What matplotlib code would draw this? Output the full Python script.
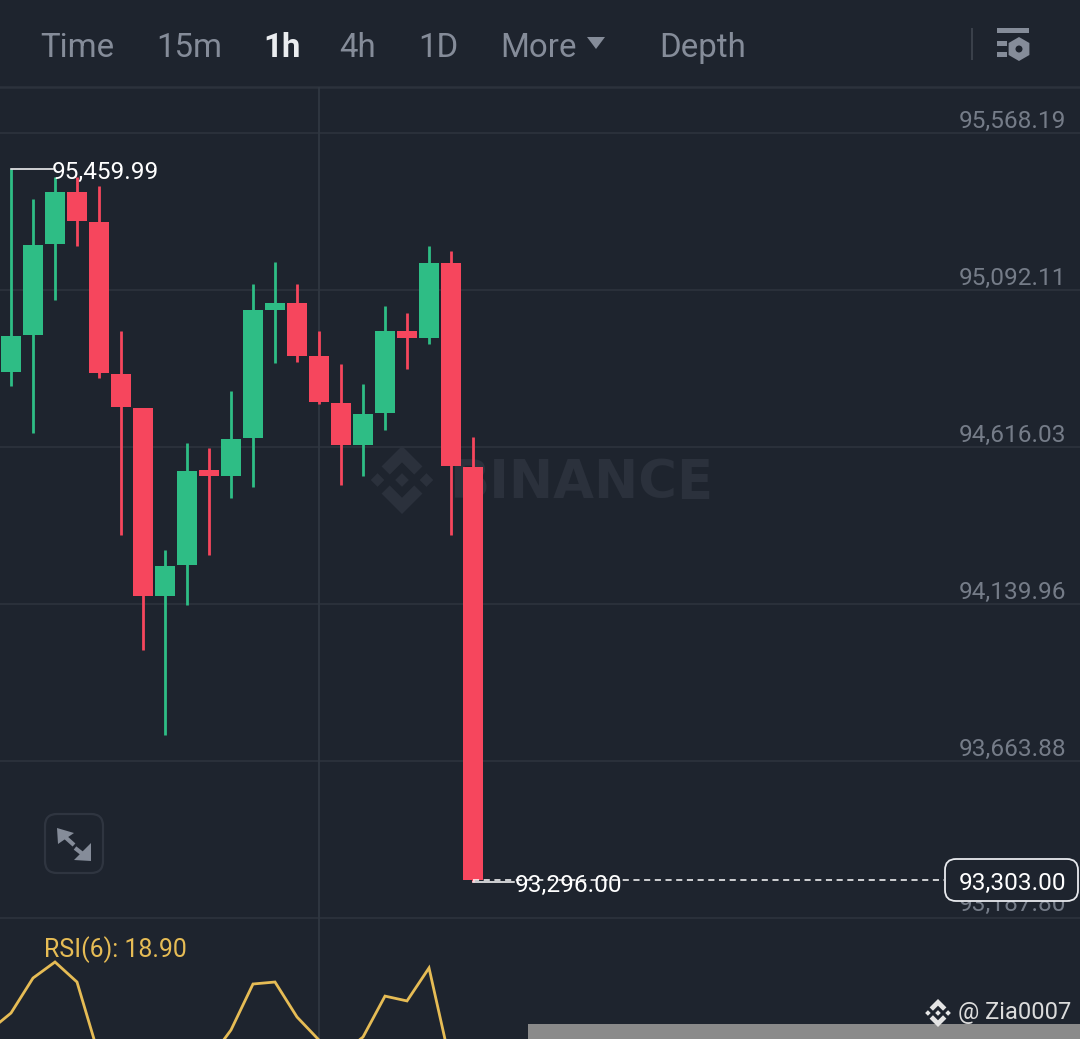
import matplotlib
matplotlib.use('Agg')
import matplotlib.pyplot as plt
from matplotlib.patches import FancyBboxPatch, Polygon, Rectangle, Circle, RegularPolygon

# candles
opens = [94843.5, 94955.7, 95231.6, 95389.3, 95298.3, 94837.4, 94734.3, 94164.2, 94258.2, 94546.3, 94528.1,
         94643.3, 95031.5, 95052.7, 94892.0, 94749.5, 94622.1, 94719.1, 94967.8, 94946.6, 95174.0, 94555.4]
highs = [95459.99, 95368.1, 95434.8, 95434.8, 95407.5, 94967.8, 94734.3, 94303.7, 94628.2, 94613.0, 94785.8,
         95110.3, 95177.0, 95110.3, 94967.8, 94867.7, 94807.1, 95043.6, 95022.4, 95225.5, 95210.4, 94646.4]
lows = [94801.0, 94658.5, 95061.8, 95225.5, 94825.3, 94349.2, 94000.4, 93742.7, 94136.9, 94288.5, 94461.4,
        94494.7, 94870.7, 94873.8, 94746.4, 94500.8, 94528.1, 94667.6, 94852.6, 94928.4, 94349.2, 93296.0]
closes = [94952.6, 95228.6, 95389.3, 95301.3, 94840.4, 94737.3, 94164.2, 94255.2, 94543.2, 94528.1, 94640.3,
          95031.5, 95052.7, 94892.0, 94752.5, 94622.1, 94716.1, 94967.8, 94946.6, 95174.0, 94558.4, 93303.0]

price_ticks = [95568.19, 95092.11, 94616.03, 94139.96, 93663.88, 93187.80]
high_price = 95459.99
low_price = 93296.00
last_price = 93303.00

# RSI starts one candle before the first visible one, lower values are off the crop
rsi_idx = list(range(-1, 22))
rsi = [48.6, 56.8, 72.7, 80.0, 70.9, 37.3, 28.6, 24.0, 28.6, 32.7, 35.5, 49.1,
       70.0, 70.9, 55.0, 44.5, 37.7, 45.9, 64.5, 62.3, 77.3, 32.7, 18.90]
rsi_label = 'RSI(6): 18.90'

menu_labels = ['Time', '15m', '1h', '4h', '1D', 'More', 'Depth']
menu_x = [40, 156, 263, 339, 418, 500, 659]

BG = '#1E242E'
GRID = '#2C323C'
VLINE = '#303741'
GREEN = '#2EBD85'
RED = '#F6465D'
TXT = '#757C88'
MENU = '#858C99'
YELLOW = '#E6BC55'

plt.rcParams['font.family'] = ['Roboto', 'DejaVu Sans']

W, H = 1080, 1039
fig = plt.figure(figsize=(W / 100, H / 100), dpi=100, facecolor=BG)


def px_axes(z):
    a = fig.add_axes([0, 0, 1, 1], zorder=z)
    a.set_xlim(0, W)
    a.set_ylim(H, 0)
    a.axis('off')
    a.patch.set_alpha(0)
    return a


def binance_logo(a, cx, cy, s, color, z=2):
    for dx in (-0.72, 0, 0.72):
        d = 0.2
        pts = [(dx, -d), (dx + d, 0), (dx, d), (dx - d, 0)]
        a.add_patch(Polygon([(cx + p * s, cy + q * s) for p, q in pts], fc=color, ec='none', zorder=z))
    for sign in (-1, 1):
        pts = [(0, -1), (0.6, -0.4), (0.36, -0.16), (0, -0.52), (-0.36, -0.16), (-0.6, -0.4)]
        a.add_patch(Polygon([(cx + p * s, cy + sign * q * s) for p, q in pts], fc=color, ec='none', zorder=z))


back = px_axes(0)
front = px_axes(5)

# main price panel
ax = fig.add_axes([0, (H - 918) / H, 1, (918 - 87) / H], zorder=2)
ax.patch.set_alpha(0)
ax.set_xlim(-0.5, 48.59)
ax.set_ylim(price_ticks[-1], 95707.68)
ax.axis('off')

# rsi panel
ax2 = fig.add_axes([0, 0, 1, (H - 918) / H], zorder=2)
ax2.patch.set_alpha(0)
ax2.set_xlim(-0.5, 48.59)
ax2.set_ylim(45, 100)
ax2.axis('off')

# grid
for p in price_ticks:
    ax.axhline(p, color=GRID, lw=1.3, zorder=0, clip_on=False)
ax.axvline(14, color=VLINE, lw=1.3, zorder=0)
ax2.axvline(14, color=VLINE, lw=1.3, zorder=0)
back.plot([0, W], [87, 87], color=GRID, lw=1.8)

# watermark
binance_logo(back, 402, 480, 34, '#2B313C')
back.text(449, 483, 'BINANCE', color='#2B313C', fontsize=38, fontweight='bold', family='DejaVu Sans',
          va='center', ha='left')

# candles
for i in range(len(opens)):
    up = closes[i] >= opens[i]
    c = GREEN if up else RED
    ax.vlines(i, lows[i], highs[i], color=c, lw=2, zorder=2)
    ax.bar(i, abs(closes[i] - opens[i]), bottom=min(opens[i], closes[i]), width=0.91, color=c, zorder=3)

# price labels, the lowest one is pushed up a little
for p in price_ticks:
    y_px = 918 - (p - price_ticks[-1]) / (95707.68 - price_ticks[-1]) * (918 - 87)
    off = 14 if p == price_ticks[-1] else 12
    back.text(1066, y_px - off, f'{p:,.2f}', color=TXT, fontsize=17.6, ha='right', va='center')

# high / low / last markers
ax.plot([0, 1.9], [high_price, high_price], color='white', lw=1.1, zorder=4)
ax.text(1.86, high_price - 12, f'{high_price:,.2f}', color='white', fontsize=17.6, va='center', ha='left', zorder=5)
ax.plot([21, 22.86], [low_price, low_price], color='white', lw=1.1, zorder=4)
ax.text(22.9, low_price - 9, f'{low_price:,.2f}', color='white', fontsize=17.6, va='center', ha='left', zorder=5)
ax.plot([21, 42.4], [last_price, last_price], color='white', lw=1.1, ls=(0, (4, 3)), zorder=4)

# last price box
front.add_patch(FancyBboxPatch((945, 859), 133, 42, boxstyle='round,pad=0,rounding_size=11', fc=BG, ec='#E8EAEE', lw=1.3))
front.text(1013, 883, f'{last_price:,.2f}', color='white', fontsize=17.6, ha='center', va='center')

# rsi
ax2.plot(rsi_idx, rsi, color=YELLOW, lw=2, solid_joinstyle='miter', zorder=3)
front.text(44, 950, rsi_label, color=YELLOW, fontsize=17.9, va='center', ha='left')

# top menu
for lab, x in zip(menu_labels, menu_x):
    if lab == '1h':
        front.text(x, 48, lab, color='#EAECEF', fontsize=23.8, fontweight='bold', va='center', ha='left')
    else:
        front.text(x, 48, lab, color=MENU, fontsize=23.8, va='center', ha='left')
front.add_patch(Polygon([(587, 37), (605, 37), (596, 49)], fc=MENU, ec='none'))

# settings icon
front.add_patch(Rectangle((971, 28), 2, 32, fc='#3A404A', ec='none'))
front.add_patch(Rectangle((997, 28), 32, 5, fc=MENU, ec='none'))
front.add_patch(Rectangle((997, 41), 10, 5, fc=MENU, ec='none'))
front.add_patch(Rectangle((997, 52), 10, 5, fc=MENU, ec='none'))
front.add_patch(RegularPolygon((1019, 49), 6, radius=12, fc=MENU, ec='none'))
front.add_patch(Circle((1019, 49), 3.5, fc=BG, ec='none'))

# expand button
front.add_patch(FancyBboxPatch((45, 814), 58, 59, boxstyle='round,pad=0,rounding_size=12', fc='none', ec='#2F3540', lw=1.6))
front.add_patch(Polygon([(57, 828), (74, 833), (58, 844)], fc=MENU, ec='none'))
front.add_patch(Polygon([(91, 861), (74, 860), (91, 843)], fc=MENU, ec='none'))
front.plot([64, 74], [836, 845], color=MENU, lw=3, solid_capstyle='butt')
front.plot([75, 84], [848, 855], color=MENU, lw=3, solid_capstyle='butt')

# bottom bar and watermark
front.add_patch(Rectangle((528, 1024), 552, 15, fc='#8A8A8A', ec='none'))
binance_logo(front, 938, 1013, 14, '#E4E4E4', z=3)
front.text(958, 1013, '@ Zia0007', color='#DCDCDC', fontsize=17, va='center', ha='left', zorder=3)

fig.savefig('out.png', dpi=100, facecolor=BG)
